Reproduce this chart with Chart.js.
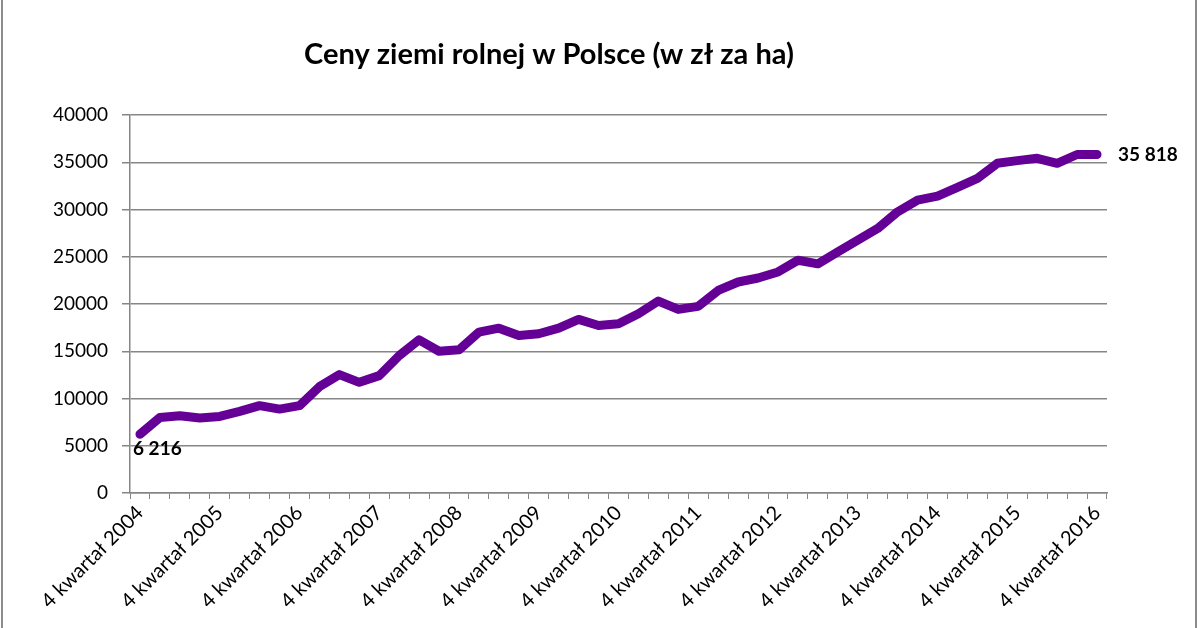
<html>
<head>
  <meta charset="utf-8"/>
  <title>Ceny ziemi rolnej w Polsce</title>
  <script src="https://cdn.jsdelivr.net/npm/chart.js"></script>
  <style>
    body { margin: 0; background: #fff; }
    .chart-container { width: 1200px; height: 628px; }
  </style>
</head>
<body>
  <div class="chart-container">
    <canvas id="priceChart" width="1200" height="628"></canvas>
  </div>

  <script>
    const years = [2004, 2005, 2006, 2007, 2008, 2009, 2010, 2011, 2012, 2013, 2014, 2015, 2016];

    // kwartały od 4 kw. 2004 do 4 kw. 2016
    const quarters = [];
    quarters.push('4 kwartał 2004');
    for (let y = 2005; y <= 2016; y++) {
      for (let q = 1; q <= 4; q++) quarters.push(q + ' kwartał ' + y);
    }

    const prices = [
      6216, 7990, 8170, 7930, 8100, 8630, 9240, 8880, 9240, 11250,
      12530, 11710, 12420, 14540, 16210, 15000, 15150, 17020, 17440, 16670,
      16850, 17440, 18370, 17730, 17910, 18970, 20310, 19430, 19750, 21440,
      22330, 22750, 23390, 24630, 24250, 25510, 26750, 27990, 29760, 31000,
      31420, 32340, 33300, 34890, 35170, 35420, 34890, 35820, 35818
    ];

    const yTicks = [0, 5000, 10000, 15000, 20000, 25000, 30000, 35000, 40000];

    const chartTitle = 'Ceny ziemi rolnej w Polsce (w zł za ha)';
    const firstLabel = '6 216';
    const lastLabel = '35 818';

    const decor = {
      id: 'decor',
      afterDraw(chart) {
        const ctx = chart.ctx;
        ctx.save();
        // ramka wykresu
        ctx.strokeStyle = '#8c8c8c';
        ctx.lineWidth = 2;
        ctx.beginPath();
        ctx.moveTo(2, 0); ctx.lineTo(2, 628);
        ctx.moveTo(1196, 0); ctx.lineTo(1196, 628);
        ctx.stroke();

        ctx.fillStyle = '#000';
        ctx.font = 'bold 29px Lato';
        ctx.textAlign = 'center';
        ctx.textBaseline = 'middle';
        ctx.fillText(chartTitle, 549, 55);

        // etykiety danych
        const meta = chart.getDatasetMeta(0);
        const p0 = meta.data[0];
        const pN = meta.data[meta.data.length - 1];
        ctx.font = 'bold 19px Lato';
        ctx.textAlign = 'left';
        ctx.fillText(firstLabel, p0.x - 7, p0.y + 15);
        ctx.fillText(lastLabel, pN.x + 21, pN.y);
        ctx.restore();
      }
    };

    window.addEventListener('DOMContentLoaded', () => {
      const ctx = document.getElementById('priceChart').getContext('2d');
      new Chart(ctx, {
        type: 'line',
        data: {
          labels: quarters,
          datasets: [{
            label: 'Cena (zł/ha)',
            data: prices,
            borderColor: '#650096',
            borderWidth: 9,
            borderCapStyle: 'round',
            borderJoinStyle: 'round',
            pointRadius: 0,
            tension: 0,
            fill: false
          }]
        },
        options: {
          responsive: false,
          animation: false,
          layout: { padding: { top: 115, right: 93, left: 0, bottom: 0 } },
          plugins: {
            legend: { display: false },
            tooltip: { enabled: false }
          },
          scales: {
            x: {
              offset: true,
              afterFit: (s) => { s.height = 135; },
              grid: {
                offset: true,
                drawOnChartArea: false,
                color: '#868686',
                tickLength: 6,
                tickColor: '#868686'
              },
              border: { color: '#868686', width: 1.5 },
              ticks: {
                autoSkip: false,
                minRotation: 45,
                maxRotation: 45,
                padding: 2,
                color: '#000',
                font: { family: 'Lato', size: 20 },
                callback: (v, i) => (i % 4 === 0 ? quarters[i] : '')
              }
            },
            y: {
              min: 0,
              max: 40000,
              afterFit: (s) => { s.width = 130; },
              afterBuildTicks: (s) => { s.ticks = yTicks.map(v => ({ value: v })); },
              grid: { color: '#868686', lineWidth: 1.5, tickLength: 8 },
              border: { color: '#868686', width: 1.5 },
              ticks: {
                padding: 14,
                color: '#000',
                font: { family: 'Lato', size: 19 },
                callback: (v) => String(v)
              }
            }
          }
        },
        plugins: [decor]
      });
    });
  </script>
</body>
</html>
